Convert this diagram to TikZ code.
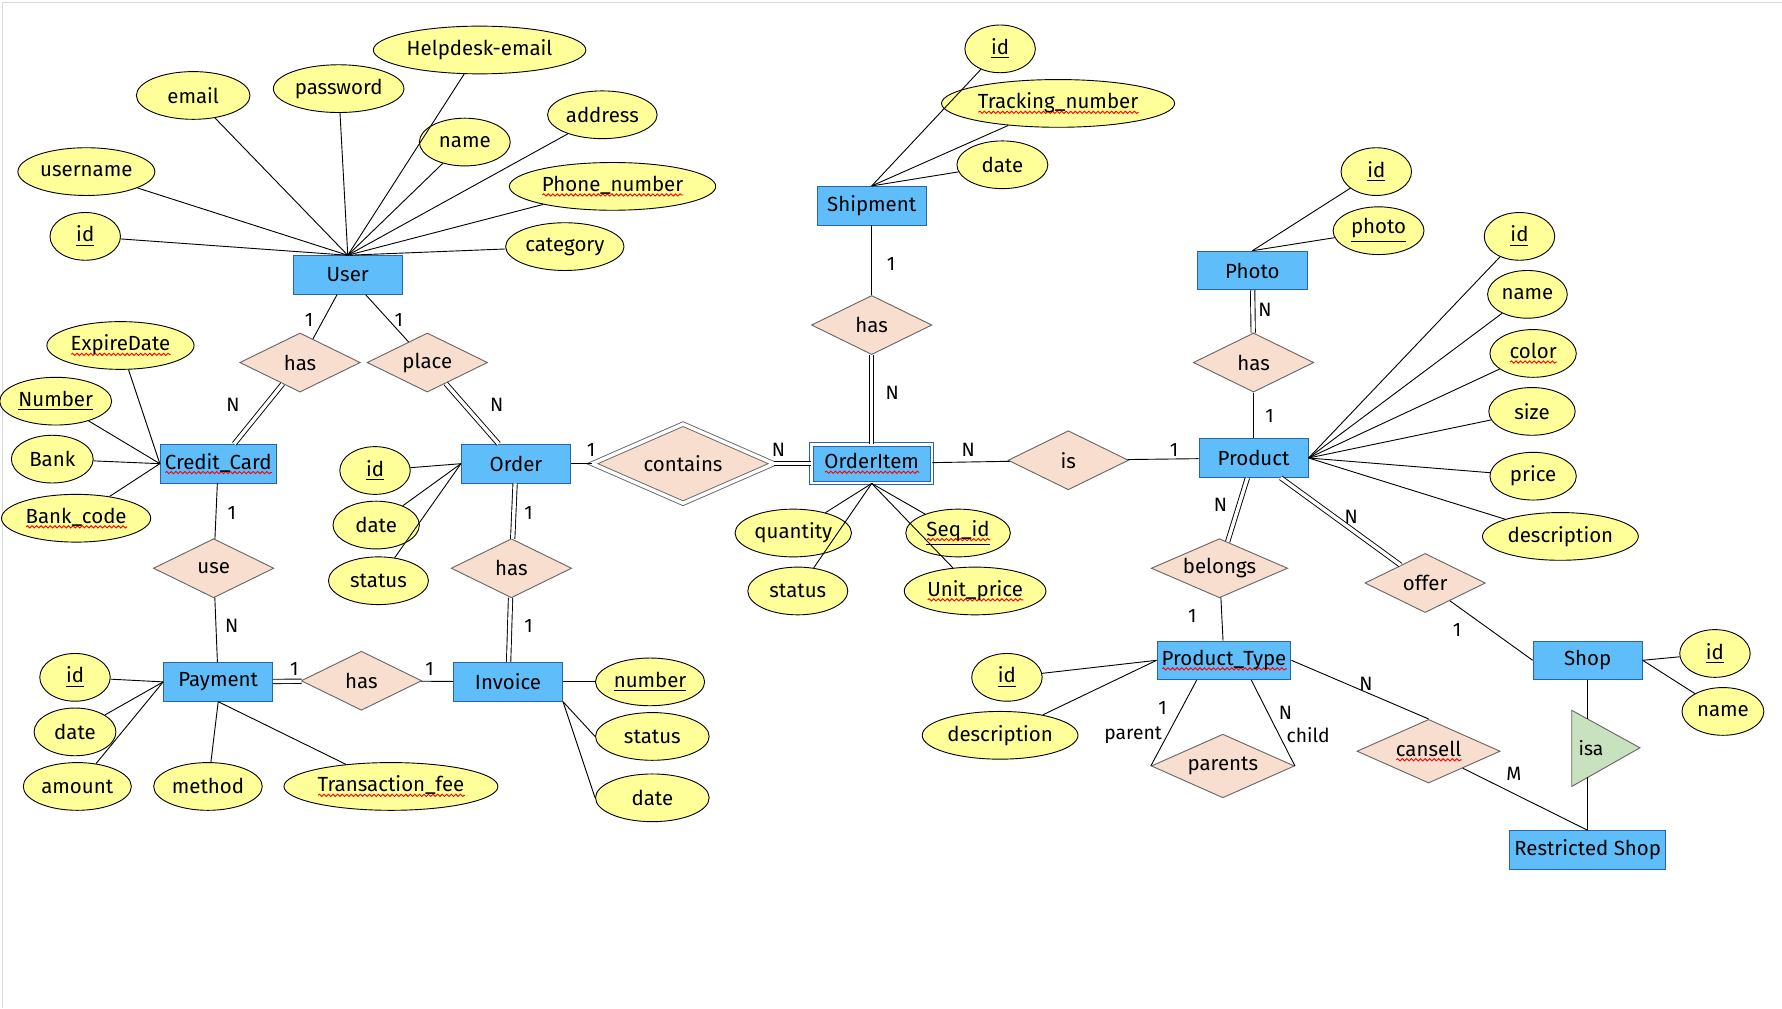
\documentclass[tikz,border=0pt]{standalone}
\usepackage{fontspec}
\setmainfont{Fira Sans}
\usetikzlibrary{shapes.geometric,decorations.pathmorphing}
\newsavebox\sqbox
\newcommand\sq[1]{\sbox\sqbox{#1}\rlap{\raisebox{-2.2pt}{\tikz\draw[red,line width=0.4pt,decorate,decoration={snake,amplitude=0.5pt,segment length=2pt}] (0pt,0pt)--(\wd\sqbox,0pt);}}\usebox\sqbox}
\definecolor{entfill}{RGB}{95,190,250}
\definecolor{entdraw}{RGB}{40,100,170}
\definecolor{attfill}{RGB}{255,255,153}
\definecolor{relfill}{RGB}{248,222,206}
\definecolor{isafill}{RGB}{200,225,190}
\begin{document}
\begin{tikzpicture}[x=0.5pt,y=-0.5pt,font=\fontsize{9}{10}\selectfont,
  ent/.style={draw=entdraw,fill=entfill,minimum height=17pt,minimum width=48pt,inner xsep=2pt},
  att/.style={ellipse,draw,fill=attfill,minimum height=21pt,minimum width=31pt,inner xsep=1pt,inner ysep=0pt},
  rel/.style={diamond,draw=black!60,fill=relfill,aspect=2,minimum width=53pt,minimum height=26pt,inner sep=0pt},
  dbl/.style={double,double distance=1.5pt},
  lbl/.style={font=\fontsize{8.5}{10}\selectfont,inner sep=1pt}]
\useasboundingbox (0,0) rectangle (1568,887);
\draw[black!15] (1568,2) -- (2,2) -- (2,887);
% entities
\node[ent] (user) at (306,242) {User};
\node[ent] (cc) at (192,408) {\sq{Credit\_Card}};
\node[ent] (order) at (454,408) {Order};
\node[ent,double,double distance=1.2pt,minimum width=53pt] (oi) at (767,408) {\sq{OrderItem}};
\node[ent] (ship) at (767,181) {Shipment};
\node[ent] (photo) at (1102,238) {Photo};
\node[ent] (prod) at (1103,403) {Product};
\node[ent] (pay) at (192,600) {Payment};
\node[ent] (inv) at (447,600) {Invoice};
\node[ent,minimum width=57pt] (pt) at (1077,581) {\sq{Product\_Type}};
\node[ent] (shop) at (1397,581) {Shop};
\node[ent] (rshop) at (1397,748) {Restricted Shop};
% relationships
\node[rel] (r1) at (264,319) {has};
\node[rel] (place) at (376,319) {place};
\node[rel] (use) at (188,500) {use};
\node[rel] (r2) at (450,500) {has};
\node[rel] (r3) at (318,599) {has};
\node[rel,double,double distance=1.5pt,minimum width=80pt,minimum height=35pt] (cont) at (601,408) {contains};
\node[rel] (r4) at (767,286) {has};
\node[rel] (is) at (940,405) {is};
\node[rel] (r5) at (1103,319) {has};
\node[rel,minimum width=60pt] (bel) at (1073,500) {belongs};
\node[rel] (offer) at (1254,513) {offer};
\node[rel,minimum width=63pt,minimum height=28pt] (par) at (1076,674) {parents};
\node[rel,minimum width=63pt,minimum height=28pt] (cans) at (1257,661) {\sq{cansell}};
\draw[draw=black!60,fill=isafill] (1383,625) coordinate (ta) -- (1443,658) -- (1383,692) coordinate (tb) -- cycle;
\node[lbl] (isa) at (1400,658) {isa};
\coordinate (it) at (1397,633);
\coordinate (ib) at (1397,684);
% User attributes
\node[att,minimum width=50pt] (ue) at (170,84) {email};
\node[att] (up) at (298,78) {password};
\node[att] (uh) at (422,44) {Helpdesk-email};
\node[att] (ua) at (530,101) {address};
\node[att,minimum width=40pt] (un) at (409,125) {name};
\node[att] (uph) at (539,164) {\sq{Phone\_number}};
\node[att] (uu) at (76,151) {username};
\node[att] (ui) at (75,208) {\underline{id}};
\node[att] (uc) at (497,217) {category};
\foreach \a in {ue,up,uh,ua,un,uph,uu,ui,uc} \draw (user.north) -- (\a);
% Credit card
\node[att] (ce) at (106,304) {\sq{ExpireDate}};
\node[att] (cn) at (49,353) {\underline{Number}};
\node[att,minimum width=36pt] (cb) at (46,404) {Bank};
\node[att] (cbc) at (67,456) {\sq{Bank\_code}};
\foreach \a in {ce,cn,cb,cbc} \draw (cc.west) -- (\a);
% Order
\node[att] (oid) at (330,414) {\underline{id}};
\node[att,minimum width=38pt] (od) at (331,462) {date};
\node[att,minimum width=44pt] (os) at (333,511) {status};
\foreach \a in {oid,od,os} \draw (order.west) -- (\a);
% OrderItem
\node[att] (qq) at (698,469) {quantity};
\node[att,minimum width=44pt] (qs) at (702,520) {status};
\node[att,minimum width=46pt] (qi) at (843,469) {\underline{\sq{Seq\_id}}};
\node[att] (qu) at (858,520) {\sq{Unit\_price}};
\foreach \a in {qq,qs,qi,qu} \draw (oi.south) -- (\a);
% Shipment
\node[att] (si) at (880,43) {\underline{id}};
\node[att] (st) at (931,91) {\sq{Tracking\_number}};
\node[att,minimum width=40pt] (sd) at (882,145) {date};
\foreach \a in {si,st,sd} \draw (ship.north) -- (\a);
% Photo
\node[att] (pi) at (1211,151) {\underline{id}};
\node[att,minimum width=40pt] (pp) at (1213,203) {\underline{photo}};
\foreach \a in {pi,pp} \draw (photo.north) -- (\a);
% Product
\node[att] (di) at (1337,208) {\underline{id}};
\node[att,minimum width=34pt] (dn) at (1344,259) {name};
\node[att,minimum width=38pt] (dc) at (1349,311) {\sq{color}};
\node[att,minimum width=38pt] (ds) at (1348,362) {size};
\node[att,minimum width=38pt] (dp) at (1349,419) {price};
\node[att] (dd) at (1373,472) {description};
\foreach \a in {di,dn,dc,ds,dp,dd} \draw (prod.east) -- (\a);
% Payment
\node[att] (ai) at (66,596) {\underline{id}};
\node[att,minimum width=36pt] (ad) at (66,644) {date};
\node[att] (aa) at (68,692) {amount};
\node[att] (am) at (183,692) {method};
\node[att] (at) at (344,692) {\sq{Transaction\_fee}};
\foreach \a in {ai,ad,aa} \draw (pay.west) -- (\a);
\foreach \a in {am,at} \draw (pay.south) -- (\a);
% Invoice
\node[att] (vn) at (572,600) {\underline{number}};
\node[att,minimum width=50pt] (vs) at (574,648) {status};
\node[att,minimum width=50pt] (vd) at (574,702) {date};
\draw (inv.east) -- (vn);
\draw (inv.south east) -- (vs.west);
\draw (inv.south east) -- (vd.west);
% Product type
\node[att] (ti) at (886,596) {\underline{id}};
\node[att] (td) at (880,647) {description};
\foreach \a in {ti,td} \draw (pt.west) -- (\a);
% Shop
\node[att] (hi) at (1509,575) {\underline{id}};
\node[att,minimum width=36pt] (hn) at (1516,626) {name};
\foreach \a in {hi,hn} \draw (shop.east) -- (\a);
% relationship links
\draw (user) -- (r1);
\draw (user) -- (place);
\draw[dbl] (r1) -- (cc);
\draw[dbl] (place) -- (order);
\draw (cc) -- (use);
\draw (use) -- (pay);
\draw[dbl] (order) -- (r2);
\draw[dbl] (r2) -- (inv);
\draw[dbl] (pay) -- (r3);
\draw (r3) -- (inv);
\draw (order) -- (cont);
\draw[dbl] (cont) -- (oi);
\draw (ship) -- (r4);
\draw[dbl] (r4) -- (oi);
\draw (oi) -- (is);
\draw (is) -- (prod);
\draw[dbl] (photo) -- (r5);
\draw (r5) -- (prod);
\draw[dbl] (prod) -- (bel);
\draw (bel) -- (pt);
\draw[dbl] (prod) -- (offer);
\draw (offer) -- (shop.west);
\draw ([xshift=-12pt]pt.south) -- (par.west);
\draw ([xshift=12pt]pt.south) -- (par.east);
\draw (pt.east) -- (cans.north);
\draw (cans) -- (rshop.north);
\draw (shop) -- (it);
\draw (ib) -- (rshop);
% cardinalities
\node[lbl] at (272,282) {1};
\node[lbl] at (351,282) {1};
\node[lbl] at (205,356) {N};
\node[lbl] at (437,356) {N};
\node[lbl] at (204,451) {1};
\node[lbl] at (204,551) {N};
\node[lbl] at (465,451) {1};
\node[lbl] at (465,551) {1};
\node[lbl] at (259,589) {1};
\node[lbl] at (378,589) {1};
\node[lbl] at (520,396) {1};
\node[lbl] at (685,396) {N};
\node[lbl] at (784,232) {1};
\node[lbl] at (785,346) {N};
\node[lbl] at (852,396) {N};
\node[lbl] at (1033,396) {1};
\node[lbl] at (1113,273) {N};
\node[lbl] at (1117,366) {1};
\node[lbl] at (1074,444) {N};
\node[lbl] at (1189,455) {N};
\node[lbl] at (1049,542) {1};
\node[lbl] at (1282,554) {1};
\node[lbl] at (1202,602) {N};
\node[lbl] at (1332,681) {M};
\node[lbl] at (1023,623) {1};
\node[lbl] at (997,647) {parent};
\node[lbl] at (1131,627) {N};
\node[lbl] at (1151,647) {child};
\end{tikzpicture}
\end{document}
